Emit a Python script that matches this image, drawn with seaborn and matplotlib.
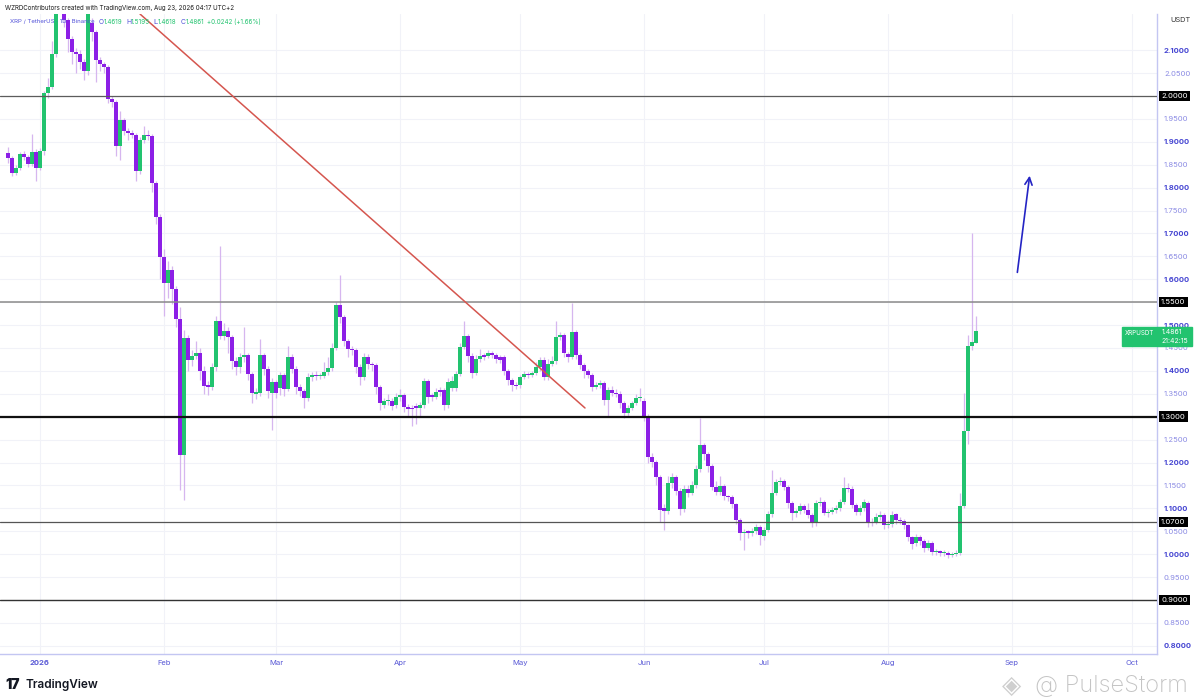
import numpy as np
import pandas as pd
import seaborn as sns
import matplotlib.pyplot as plt
import matplotlib.transforms as mtransforms
from matplotlib.patches import Rectangle

# XRP / TetherUS daily candles, first candle is 2025-12-24 (day -8, day 0 = 2026-01-01)
first_day = -8

opens = [
    1.876, 1.865, 1.832, 1.843, 1.873, 1.867, 1.852, 1.878, 1.843, 1.880,
    2.007, 2.020, 2.092, 2.190, 2.205, 2.166, 2.124, 2.096, 2.092, 2.074,
    2.055, 2.160, 2.140, 2.079, 2.070, 2.063, 1.993, 1.987, 1.891, 1.948,
    1.924, 1.919, 1.915, 1.836, 1.904, 1.915, 1.913, 1.810, 1.736, 1.648,
    1.592, 1.620, 1.579, 1.513, 1.216, 1.472, 1.424, 1.432, 1.439, 1.400,
    1.370, 1.365, 1.408, 1.509, 1.476, 1.487, 1.474, 1.421, 1.408, 1.430,
    1.434, 1.393, 1.350, 1.352, 1.435, 1.404, 1.352, 1.376, 1.362, 1.391,
    1.360, 1.430, 1.404, 1.365, 1.356, 1.341, 1.386, 1.392, 1.389, 1.389,
    1.398, 1.407, 1.450, 1.544, 1.518, 1.465, 1.448, 1.445, 1.408, 1.386,
    1.430, 1.415, 1.413, 1.365, 1.325, 1.334, 1.334, 1.325, 1.343, 1.347,
    1.321, 1.319, 1.323, 1.318, 1.325, 1.378, 1.347, 1.343, 1.358, 1.358,
    1.325, 1.362, 1.362, 1.393, 1.452, 1.476, 1.432, 1.395, 1.426, 1.435,
    1.432, 1.439, 1.435, 1.430, 1.430, 1.400, 1.380, 1.369, 1.369, 1.386,
    1.393, 1.391, 1.395, 1.408, 1.424, 1.386, 1.415, 1.421, 1.474, 1.478,
    1.437, 1.430, 1.485, 1.435, 1.413, 1.400, 1.391, 1.365, 1.369, 1.373,
    1.336, 1.358, 1.352, 1.350, 1.330, 1.308, 1.319, 1.330, 1.341, 1.334,
    1.299, 1.212, 1.201, 1.168, 1.100, 1.094, 1.155, 1.168, 1.138, 1.098,
    1.142, 1.133, 1.151, 1.186, 1.238, 1.218, 1.192, 1.146, 1.135, 1.149,
    1.127, 1.124, 1.109, 1.074, 1.046, 1.048, 1.047, 1.050, 1.059, 1.039,
    1.052, 1.087, 1.133, 1.157, 1.160, 1.146, 1.111, 1.090, 1.094, 1.105,
    1.096, 1.085, 1.068, 1.111, 1.114, 1.090, 1.092, 1.096, 1.100, 1.114,
    1.144, 1.142, 1.107, 1.092, 1.100, 1.111, 1.068, 1.070, 1.081, 1.085,
    1.063, 1.066, 1.087, 1.074, 1.072, 1.063, 1.037, 1.024, 1.037, 1.028,
    1.013, 1.024, 1.004, 1.007, 1.002, 1.003, 0.998, 1.000, 1.002, 1.105,
    1.269, 1.454, 1.4619,
]

closes = [
    1.865, 1.832, 1.843, 1.873, 1.867, 1.852, 1.878, 1.843, 1.880, 2.007,
    2.020, 2.092, 2.185, 2.220, 2.166, 2.124, 2.096, 2.092, 2.074, 2.055,
    2.185, 2.140, 2.079, 2.070, 2.063, 1.993, 1.987, 1.891, 1.948, 1.924,
    1.919, 1.915, 1.836, 1.904, 1.915, 1.913, 1.810, 1.736, 1.648, 1.592,
    1.620, 1.579, 1.513, 1.216, 1.472, 1.424, 1.432, 1.439, 1.400, 1.367,
    1.365, 1.408, 1.509, 1.476, 1.487, 1.474, 1.421, 1.408, 1.430, 1.434,
    1.393, 1.352, 1.354, 1.435, 1.404, 1.356, 1.376, 1.352, 1.391, 1.360,
    1.430, 1.404, 1.365, 1.356, 1.341, 1.386, 1.392, 1.389, 1.390, 1.398,
    1.407, 1.450, 1.544, 1.518, 1.465, 1.448, 1.445, 1.408, 1.386, 1.430,
    1.415, 1.413, 1.365, 1.330, 1.334, 1.336, 1.323, 1.343, 1.347, 1.321,
    1.317, 1.316, 1.318, 1.325, 1.378, 1.343, 1.343, 1.354, 1.354, 1.325,
    1.376, 1.378, 1.393, 1.452, 1.476, 1.432, 1.395, 1.426, 1.432, 1.430,
    1.439, 1.435, 1.426, 1.424, 1.400, 1.380, 1.369, 1.367, 1.386, 1.393,
    1.391, 1.395, 1.408, 1.424, 1.386, 1.415, 1.421, 1.474, 1.478, 1.439,
    1.430, 1.485, 1.435, 1.413, 1.400, 1.391, 1.365, 1.369, 1.373, 1.336,
    1.358, 1.352, 1.350, 1.330, 1.308, 1.319, 1.330, 1.341, 1.343, 1.299,
    1.212, 1.201, 1.168, 1.096, 1.094, 1.155, 1.168, 1.138, 1.098, 1.142,
    1.133, 1.151, 1.186, 1.238, 1.218, 1.192, 1.146, 1.135, 1.149, 1.127,
    1.124, 1.109, 1.074, 1.046, 1.048, 1.047, 1.050, 1.059, 1.041, 1.052,
    1.087, 1.133, 1.157, 1.160, 1.146, 1.111, 1.090, 1.094, 1.105, 1.096,
    1.085, 1.068, 1.111, 1.114, 1.090, 1.092, 1.096, 1.100, 1.114, 1.144,
    1.142, 1.107, 1.092, 1.100, 1.114, 1.068, 1.070, 1.081, 1.085, 1.063,
    1.066, 1.085, 1.074, 1.072, 1.063, 1.037, 1.022, 1.037, 1.028, 1.013,
    1.024, 1.004, 1.007, 1.002, 1.003, 0.998, 1.000, 1.002, 1.105, 1.269,
    1.454, 1.462, 1.4861,
]

highs = [
    1.889, 1.870, 1.850, 1.878, 1.880, 1.872, 1.918, 1.884, 1.886, 2.012,
    2.040, 2.120, 2.200, 2.250, 2.215, 2.170, 2.130, 2.105, 2.100, 2.080,
    2.200, 2.170, 2.145, 2.085, 2.075, 2.068, 2.000, 1.992, 1.968, 1.953,
    1.930, 1.925, 1.920, 1.910, 1.935, 1.925, 1.918, 1.815, 1.742, 1.665,
    1.640, 1.628, 1.585, 1.540, 1.490, 1.478, 1.445, 1.465, 1.450, 1.410,
    1.378, 1.418, 1.520, 1.672, 1.505, 1.495, 1.478, 1.430, 1.440, 1.495,
    1.440, 1.398, 1.362, 1.470, 1.440, 1.410, 1.385, 1.380, 1.398, 1.396,
    1.455, 1.436, 1.410, 1.372, 1.360, 1.395, 1.398, 1.400, 1.396, 1.420,
    1.430, 1.460, 1.550, 1.610, 1.522, 1.470, 1.455, 1.450, 1.415, 1.440,
    1.436, 1.420, 1.418, 1.370, 1.340, 1.350, 1.340, 1.352, 1.360, 1.352,
    1.328, 1.325, 1.330, 1.333, 1.385, 1.382, 1.352, 1.362, 1.365, 1.362,
    1.385, 1.388, 1.400, 1.460, 1.509, 1.480, 1.438, 1.435, 1.448, 1.440,
    1.445, 1.444, 1.440, 1.435, 1.435, 1.405, 1.385, 1.375, 1.392, 1.400,
    1.398, 1.400, 1.420, 1.430, 1.430, 1.425, 1.432, 1.509, 1.485, 1.482,
    1.442, 1.548, 1.490, 1.440, 1.418, 1.405, 1.395, 1.375, 1.380, 1.378,
    1.365, 1.368, 1.360, 1.355, 1.335, 1.325, 1.335, 1.350, 1.362, 1.340,
    1.305, 1.220, 1.205, 1.172, 1.110, 1.170, 1.178, 1.172, 1.145, 1.150,
    1.150, 1.160, 1.195, 1.297, 1.242, 1.222, 1.196, 1.160, 1.170, 1.152,
    1.130, 1.128, 1.112, 1.078, 1.055, 1.052, 1.056, 1.066, 1.063, 1.060,
    1.095, 1.183, 1.165, 1.168, 1.165, 1.150, 1.115, 1.098, 1.112, 1.110,
    1.112, 1.090, 1.118, 1.125, 1.118, 1.098, 1.102, 1.108, 1.120, 1.168,
    1.155, 1.148, 1.112, 1.108, 1.120, 1.116, 1.078, 1.090, 1.095, 1.090,
    1.075, 1.095, 1.090, 1.080, 1.076, 1.066, 1.040, 1.045, 1.042, 1.032,
    1.030, 1.028, 1.012, 1.010, 1.008, 1.006, 1.005, 1.008, 1.133, 1.352,
    1.478, 1.701, 1.5195,
]

lows = [
    1.853, 1.826, 1.828, 1.838, 1.860, 1.845, 1.848, 1.815, 1.838, 1.872,
    1.995, 2.015, 2.085, 2.185, 2.150, 2.095, 2.070, 2.050, 2.060, 2.035,
    2.045, 2.120, 2.030, 2.055, 2.050, 1.985, 1.975, 1.870, 1.860, 1.915,
    1.905, 1.908, 1.815, 1.830, 1.898, 1.905, 1.790, 1.720, 1.600, 1.520,
    1.560, 1.545, 1.495, 1.140, 1.118, 1.400, 1.410, 1.425, 1.380, 1.350,
    1.348, 1.358, 1.400, 1.470, 1.468, 1.440, 1.405, 1.390, 1.395, 1.420,
    1.380, 1.330, 1.338, 1.345, 1.390, 1.340, 1.271, 1.340, 1.348, 1.345,
    1.355, 1.395, 1.350, 1.345, 1.320, 1.335, 1.378, 1.380, 1.382, 1.384,
    1.392, 1.400, 1.445, 1.505, 1.455, 1.430, 1.435, 1.395, 1.370, 1.380,
    1.405, 1.400, 1.350, 1.315, 1.318, 1.325, 1.315, 1.318, 1.335, 1.310,
    1.300, 1.280, 1.285, 1.300, 1.318, 1.330, 1.335, 1.338, 1.345, 1.315,
    1.320, 1.355, 1.355, 1.388, 1.448, 1.420, 1.385, 1.390, 1.420, 1.424,
    1.428, 1.428, 1.418, 1.418, 1.390, 1.370, 1.355, 1.360, 1.362, 1.382,
    1.385, 1.386, 1.390, 1.400, 1.380, 1.380, 1.410, 1.415, 1.468, 1.430,
    1.420, 1.425, 1.425, 1.405, 1.385, 1.385, 1.355, 1.360, 1.362, 1.325,
    1.300, 1.345, 1.342, 1.320, 1.298, 1.300, 1.315, 1.325, 1.335, 1.290,
    1.200, 1.190, 1.150, 1.070, 1.052, 1.088, 1.145, 1.128, 1.085, 1.092,
    1.125, 1.128, 1.145, 1.180, 1.205, 1.180, 1.140, 1.128, 1.130, 1.118,
    1.115, 1.100, 1.065, 1.030, 1.009, 1.035, 1.040, 1.045, 1.020, 1.030,
    1.048, 1.082, 1.128, 1.150, 1.140, 1.100, 1.075, 1.080, 1.088, 1.090,
    1.078, 1.060, 1.062, 1.105, 1.085, 1.082, 1.088, 1.090, 1.095, 1.110,
    1.135, 1.100, 1.085, 1.086, 1.095, 1.060, 1.062, 1.065, 1.075, 1.055,
    1.058, 1.060, 1.065, 1.065, 1.055, 1.028, 1.012, 1.018, 1.020, 1.005,
    1.008, 0.998, 0.998, 0.995, 0.996, 0.992, 0.993, 0.995, 0.998, 1.100,
    1.240, 1.445, 1.4618,
]

levels = [2.0, 1.55, 1.30, 1.07, 0.90]
level_colors = ["#5c5c5c", "#8a8a8a", "#111111", "#555555", "#333333"]
level_widths = [0.9, 1.1, 1.6, 0.9, 1.0]

month_days = [0, 31, 59, 90, 120, 151, 181, 212, 243, 273]
month_labels = ["2026", "Feb", "Mar", "Apr", "May", "Jun", "Jul", "Aug", "Sep", "Oct"]

price_ticks = [0.80, 0.85, 0.90, 0.95, 1.00, 1.05, 1.10, 1.15, 1.20, 1.25, 1.30, 1.35,
               1.40, 1.45, 1.50, 1.55, 1.60, 1.65, 1.70, 1.75, 1.80, 1.85, 1.90, 1.95,
               2.00, 2.05, 2.10]

# hand drawn trend line and the arrow (day, price)
trend_days = [25, 136.25]
trend_prices = [2.179, 1.319]
arrow_days = [244.25, 247.5]
arrow_prices = [1.609, 1.832]

last_price = 1.4861
ohlc_labels = [("O", "1.4619"), ("H", "1.5195"), ("L", "1.4618"), ("C", "1.4861")]

GREEN = "#22c36f"
PURPLE = "#8c1fe6"
WICK = "#d6b6ef"
AXIS_BLUE = "#4646d2"
LEGEND_BLUE = "#4f4fd8"

df = pd.DataFrame({"open": opens, "high": highs, "low": lows, "close": closes})
df["day"] = first_day + np.arange(len(df))
df["up"] = df["close"] >= df["open"]
df["bottom"] = df[["open", "close"]].min(axis=1)
df["body"] = (df["close"] - df["open"]).abs().clip(lower=0.0028)

sns.set_style("white")
plt.rcParams["font.family"] = ["Inter", "DejaVu Sans"]

fig = plt.figure(figsize=(12, 7), dpi=100)
ax = fig.add_axes([0, 46 / 700, 1157 / 1200, 640 / 700])
renderer = fig.canvas.get_renderer()


def fit_text(x_px, y_px, s, width_px, size, **kw):
    # put a text at pixel position and shrink it until it fits the width seen in the screenshot
    t = fig.text(x_px / 1200, 1 - y_px / 700, s, fontsize=size, va="center", **kw)
    w = t.get_window_extent(renderer).width
    if w > width_px:
        t.set_fontsize(size * width_px / w)
    return t


# faint grid
for t in price_ticks:
    ax.axhline(t, color="#f1f2f8", lw=0.8, zorder=0)
for d in month_days:
    ax.axvline(d, color="#f1f2f8", lw=0.8, zorder=0)

# candles
ax.vlines(df["day"], df["low"], df["high"], color=WICK, lw=0.9, zorder=2)
ax.bar(df["day"], df["body"], bottom=df["bottom"], width=0.8,
       color=np.where(df["up"], GREEN, PURPLE), linewidth=0, zorder=3)

# horizontal levels
for lv, c, w in zip(levels, level_colors, level_widths):
    ax.axhline(lv, color=c, lw=w, zorder=4)

ax.plot(trend_days, trend_prices, color="#d5564f", lw=1.1, zorder=5)
ax.annotate("", xy=(arrow_days[1], arrow_prices[1]), xytext=(arrow_days[0], arrow_prices[0]),
            arrowprops=dict(arrowstyle="->", color="#2424c4", lw=1.2, mutation_scale=13),
            zorder=5)

ax.set_xlim(-10, 279.25)
ax.set_ylim(0.782, 2.179)

for s in ["top", "left"]:
    ax.spines[s].set_visible(False)
for s in ["right", "bottom"]:
    ax.spines[s].set_color("#c3c6f2")
    ax.spines[s].set_linewidth(1.0)

# price axis on the right
ax.yaxis.tick_right()
ax.set_yticks(price_ticks)
ax.set_yticklabels(["" if any(abs(t - lv) < 1e-9 for lv in levels) else f"{t:.4f}"
                    for t in price_ticks])
ax.tick_params(axis="y", length=0, pad=5, labelsize=5.5)
for lbl, t in zip(ax.get_yticklabels(), price_ticks):
    major = abs(round(t * 10) - t * 10) < 1e-6
    lbl.set_color(AXIS_BLUE if major else "#8c8ce4")
    lbl.set_fontweight("bold" if major else "normal")

ax.set_xticks(month_days)
ax.set_xticklabels(month_labels)
ax.tick_params(axis="x", length=0, pad=4, labelsize=5.5, colors="#5a5ad6")
ax.get_xticklabels()[0].set_fontweight("bold")
ax.set_xlabel("")
ax.set_ylabel("")

blend = mtransforms.blended_transform_factory(ax.transAxes, ax.transData)

# black level boxes on the price scale
for lv in levels:
    ax.text(1.0035, lv, f"{lv:.4f}", transform=blend, ha="left", va="center",
            fontsize=5.5, color="white", clip_on=False, zorder=10,
            bbox=dict(boxstyle="square,pad=0.3", fc="black", ec="none"))

# last price box
ax.add_patch(Rectangle((1122 / 1157, last_price - 0.0315), 70 / 1157, 0.0415,
                       transform=blend, color=GREEN, clip_on=False, zorder=10))
ax.text(1139 / 1157, last_price - 0.004, "XRPUSDT", transform=blend, ha="center",
        va="center", fontsize=4.5, color="white", clip_on=False, zorder=11)
ax.text(1162 / 1157, last_price - 0.001, f"{last_price:.4f}", transform=blend, ha="left",
        va="center", fontsize=5, color="white", clip_on=False, zorder=11)
ax.text(1162 / 1157, last_price - 0.021, "21:42:15", transform=blend, ha="left",
        va="center", fontsize=5, color="white", clip_on=False, zorder=11)

# header and legend row
fit_text(5, 8, "WZRDContributors created with TradingView.com, Aug 23, 2026 04:17 UTC+2",
         230, 5.5, color="#1a1a1a")
fit_text(10, 22, "XRP / TetherUS · 1D · Binance", 84, 5.5, color=LEGEND_BLUE)
for x0, (key, val) in zip([99, 126, 153, 181], ohlc_labels):
    fit_text(x0, 22, key, 5, 5.5, color=LEGEND_BLUE)
    fit_text(x0 + 5, 22, val, 19, 5.5, color=GREEN)
fit_text(207, 22, "+0.0242 (+1.66%)", 54, 5.5, color=GREEN)
fig.text(1170 / 1200, 1 - 20 / 700, "USDT", fontsize=5.3, color="#333333", va="center")

# footer logos
fig.text(5 / 1200, 1 - 685 / 700, "17", fontsize=10, fontweight="black", color="#131722",
         va="center")
fig.text(26 / 1200, 1 - 685 / 700, "TradingView", fontsize=8.5, fontweight="semibold",
         color="#131722", va="center")
fig.text(1002 / 1200, 1 - 686 / 700, "◈", fontsize=18, color="#cfcfcf", va="center",
         family=["DejaVu Sans"])
fig.text(1035 / 1200, 1 - 686 / 700, "@ PulseStorm", fontsize=17, fontweight="light",
         color="#c4c4c4", va="center")

fig.savefig("out.png", dpi=100)
